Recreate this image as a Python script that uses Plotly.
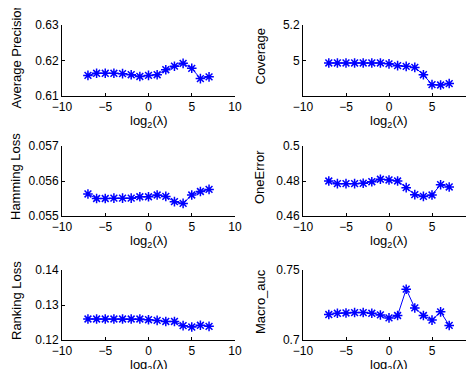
import plotly.graph_objects as go

lam = [-7, -6, -5, -4, -3, -2, -1, 0, 1, 2, 3, 4, 5, 6, 7]

avg_precision = [0.6158, 0.6164, 0.6164, 0.6164, 0.6163, 0.6160, 0.6155, 0.6158,
                 0.6160, 0.6174, 0.6184, 0.6192, 0.6178, 0.6149, 0.6154]
coverage = [4.986, 4.986, 4.986, 4.986, 4.986, 4.986, 4.986, 4.981,
            4.971, 4.967, 4.961, 4.920, 4.864, 4.862, 4.870]
hamming = [0.05563, 0.05550, 0.05550, 0.05551, 0.05551, 0.05551, 0.05555, 0.05555,
           0.05560, 0.05556, 0.05541, 0.05536, 0.05560, 0.05570, 0.05576]
one_error = [0.4800, 0.4785, 0.4785, 0.4785, 0.4787, 0.4796, 0.4810, 0.4806,
             0.4800, 0.4762, 0.4722, 0.4712, 0.4720, 0.4779, 0.4766]
ranking = [0.1260, 0.1260, 0.1260, 0.1260, 0.1260, 0.1260, 0.1260, 0.1258,
           0.1256, 0.1253, 0.1253, 0.1241, 0.1237, 0.1242, 0.1239]
macro_auc = [0.7182, 0.7191, 0.7193, 0.7196, 0.7196, 0.7191, 0.7179, 0.7158,
             0.7175, 0.7363, 0.7229, 0.7175, 0.7142, 0.7201, 0.7104]

panels = [
    ("Average Precision", avg_precision, [0.61, 0.63], [0.61, 0.62, 0.63], ["0.61", "0.62", "0.63"]),
    ("Coverage", coverage, [4.8, 5.2], [5.0, 5.2], ["5", "5.2"]),
    ("Hamming Loss", hamming, [0.055, 0.057], [0.055, 0.056, 0.057], ["0.055", "0.056", "0.057"]),
    ("OneError", one_error, [0.46, 0.5], [0.46, 0.48, 0.5], ["0.46", "0.48", "0.5"]),
    ("Ranking Loss", ranking, [0.12, 0.14], [0.12, 0.13, 0.14], ["0.12", "0.13", "0.14"]),
    ("Macro_auc", macro_auc, [0.7, 0.75], [0.7, 0.75], ["0.7", "0.75"]),
]
x_ticks = [-10, -5, 0, 5, 10]
x_ticklabels = ["\u221210", "\u22125", "0", "5", "10"]

W, H = 474, 369
col_px = [(54, 227), (295, 467)]
row_px = [(17, 88), (138, 208), (262, 332)]
ylab_x = [8, 252]

FONT = "Liberation Sans, Arial, sans-serif"
fig = go.Figure()
annotations = []
layout_axes = {}
for i, (name, vals, yr, yt, ytl) in enumerate(panels):
    r, c = divmod(i, 2)
    n = i + 1
    xa = "x" if n == 1 else f"x{n}"
    ya = "y" if n == 1 else f"y{n}"
    fig.add_trace(go.Scatter(
        x=lam, y=vals, xaxis=xa, yaxis=ya, mode="lines+markers",
        line=dict(color="#0000ff", width=1),
        marker=dict(symbol="asterisk-open", size=8, color="#0000ff",
                    line=dict(color="#0000ff", width=1.5)),
        showlegend=False, cliponaxis=False))
    x0, x1 = col_px[c]
    y0, y1 = row_px[r]
    axcommon = dict(showgrid=False, zeroline=False, showline=True, linecolor="black",
                    linewidth=1, ticks="inside", ticklen=3, tickcolor="black",
                    automargin=False,
                    tickfont=dict(family=FONT, size=12, color="black"), mirror=False)
    layout_axes["xaxis" if n == 1 else f"xaxis{n}"] = dict(
        domain=[x0 / W, x1 / W], anchor=ya, range=[-10, 10],
        tickvals=x_ticks, ticktext=x_ticklabels, **axcommon)
    layout_axes["yaxis" if n == 1 else f"yaxis{n}"] = dict(
        domain=[1 - y1 / H, 1 - y0 / H], anchor=xa, range=yr,
        tickvals=yt, ticktext=ytl, **axcommon)
    # y label
    annotations.append(dict(text=name, xref="paper", yref="paper",
                            x=ylab_x[c] / W, y=1 - ((y0 + y1) / 2 - 4) / H,
                            textangle=-90, showarrow=False, xanchor="center", yanchor="middle",
                            font=dict(family=FONT, size=13, color="black")))
    # x label
    annotations.append(dict(text="log<sub>2</sub>(\u03bb)", xref="paper", yref="paper",
                            x=(x0 + x1) / 2 / W, y=1 - (y1 + 25) / H,
                            showarrow=False, xanchor="center", yanchor="middle",
                            font=dict(family=FONT, size=13, color="black")))

fig.update_layout(width=W, height=H, margin=dict(l=0, r=0, t=0, b=0, autoexpand=False),
                  paper_bgcolor="white", plot_bgcolor="white",
                  annotations=annotations, **layout_axes)
fig.write_html("out.html")
